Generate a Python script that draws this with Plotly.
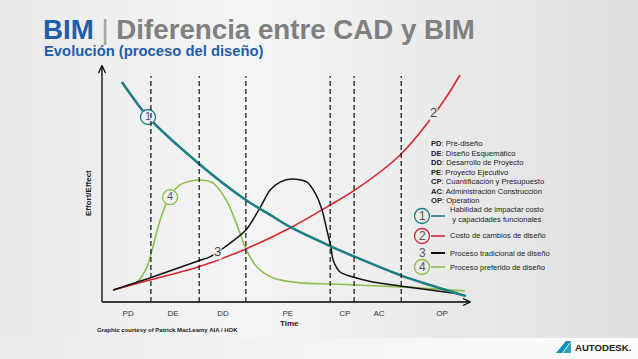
import plotly.graph_objects as go

W, H = 638, 359

# ---------------- data ----------------
phase_labels = ["PD", "DE", "DD", "PE", "CP", "AC", "OP"]
phase_label_x = [7.1, 19.3, 32.9, 50.5, 66.0, 75.3, 92.4]
phase_bounds = [13.3, 26.4, 39.1, 62.0, 68.5, 81.3]

c1_x = [5.4, 12.5, 26.1, 39.1, 45.7, 51.1, 62.0, 68.8, 81.0, 89.1, 98.9]
c1_y = [93.2, 78.4, 58.9, 43.2, 36.9, 31.8, 23.7, 19.1, 11.4, 7.2, 2.5]

c2_x = [3.0, 13.0, 26.1, 39.1, 51.6, 62.0, 68.8, 81.0, 92.1, 97.3]
c2_y = [5.1, 9.3, 14.8, 22.5, 31.8, 41.1, 47.5, 62.3, 83.5, 96.2]

c3_x = [3.0, 13.0, 26.1, 29.3, 33.4, 39.1, 42.9, 45.7, 48.4, 51.6, 55.7, 57.9,
        59.8, 61.1, 62.2, 62.8, 64.7, 68.2, 73.6, 81.0, 97.3]
c3_y = [5.1, 10.2, 17.4, 19.1, 23.3, 30.5, 39.8, 47.5, 50.8, 52.1, 50.8, 46.2,
        39.0, 30.5, 23.3, 17.8, 12.7, 10.6, 8.5, 6.8, 3.4]

c4_x = [3.0, 9.5, 12.2, 13.6, 15.8, 17.9, 21.2, 26.1, 30.2, 34.0, 37.5, 39.1,
        42.1, 46.5, 53.8, 62.8, 81.0, 98.6]
c4_y = [5.1, 8.5, 14.8, 22.0, 34.7, 43.2, 49.6, 51.7, 50.4, 42.5, 29.2, 22.5,
        14.8, 10.2, 8.1, 7.6, 6.4, 4.7]

glossary_abbr = ["PD", "DE", "DD", "PE", "CP", "AC", "OP"]
glossary_text = ["Pre-diseño", "Diseño Esquemático", "Desarrollo de Proyecto",
                 "Proyecto Ejecutivo", "Cuantificación y Presupuesto",
                 "Administración Construcción", "Operation"]

legend_nums = ["1", "2", "3", "4"]
legend_texts = ["Habilidad de impactar costo<br>y capacidades funcionales",
                "Costo de cambios de diseño",
                "Proceso tradicional de diseño",
                "Proceso preferido de diseño"]

TEAL = "#1f7d85"
RED = "#d7282f"
BLACK = "#111111"
GREEN = "#8dbf4b"
colors = [TEAL, RED, BLACK, GREEN]

# ---------------- helpers ----------------
def X(px):
    return px / W

def Y(py):
    return 1 - py / H

def lerp(a, b, t):
    return tuple(round(a[i] + (b[i] - a[i]) * t) for i in range(3))

def bg_at(px):
    if px < 250:
        c = lerp((233, 234, 235), (245, 245, 245), px / 250)
    else:
        c = lerp((245, 245, 245), (222, 223, 224), (px - 250) / (W - 250))
    return "rgb(%d,%d,%d)" % c

fig = go.Figure()

# ---------------- background ----------------
shapes = []
n = 40
for i in range(n):
    x0 = W * i / n
    x1 = W * (i + 1) / n
    shapes.append(dict(type="rect", xref="paper", yref="paper",
                       x0=X(x0), x1=X(x1) + 0.002, y0=Y(338), y1=1,
                       fillcolor=bg_at((x0 + x1) / 2), line=dict(width=0), layer="below"))
    c = lerp((236, 236, 236), (252, 252, 252), (x0 + x1) / 2 / W)
    shapes.append(dict(type="rect", xref="paper", yref="paper",
                       x0=X(x0), x1=X(x1) + 0.002, y0=0, y1=Y(338),
                       fillcolor="rgb(%d,%d,%d)" % c, line=dict(width=0), layer="below"))

# phase boundaries (dashed)
for b in phase_bounds:
    shapes.append(dict(type="line", xref="x", yref="y", x0=b, x1=b, y0=0, y1=95.8,
                       line=dict(color="black", width=1.1, dash="5px,3px")))

# axis lines with open arrow heads
def seg(x0, y0, x1, y1, w=1.3, color="black"):
    shapes.append(dict(type="line", xref="paper", yref="paper", x0=X(x0), y0=Y(y0),
                       x1=X(x1), y1=Y(y1), line=dict(color=color, width=w)))

seg(102, 302, 470, 302)
seg(102, 302, 102, 66)
seg(463, 298.5, 470.5, 302)
seg(463, 305.5, 470.5, 302)
seg(98.5, 73, 102, 65.5)
seg(105.5, 73, 102, 65.5)

# legend circles and swatches
leg_y = [216, 236, 253, 267]
for i in range(4):
    if i != 2:
        shapes.append(dict(type="circle", xref="paper", yref="paper",
                           x0=X(414.5), x1=X(429.5), y0=Y(leg_y[i] + 7.5), y1=Y(leg_y[i] - 7.5),
                           line=dict(color=colors[i], width=1.3), fillcolor="rgba(0,0,0,0)"))
    shapes.append(dict(type="line", xref="paper", yref="paper",
                       x0=X(431), x1=X(445), y0=Y(leg_y[i]), y1=Y(leg_y[i]),
                       line=dict(color=colors[i], width=2 if i == 2 else 1.6)))

# autodesk logo icon
shapes.append(dict(type="path", xref="paper", yref="paper",
                   path="M %f %f L %f %f L %f %f L %f %f Z" % (X(556), Y(353), X(566), Y(341),
                                                              X(571), Y(341), X(562), Y(353)),
                   fillcolor="#0e8fb5", line=dict(width=0)))
shapes.append(dict(type="path", xref="paper", yref="paper",
                   path="M %f %f L %f %f L %f %f L %f %f Z" % (X(563), Y(353), X(571), Y(342),
                                                              X(571), Y(353), X(563), Y(353)),
                   fillcolor="#2aa3b8", line=dict(width=0)))

# ---------------- curves ----------------
fig.add_trace(go.Scatter(x=c4_x, y=c4_y, mode="lines", line=dict(color=GREEN, width=1.6, shape="spline", smoothing=0.8)))
fig.add_trace(go.Scatter(x=c2_x, y=c2_y, mode="lines", line=dict(color=RED, width=1.6, shape="spline", smoothing=0.8)))
fig.add_trace(go.Scatter(x=c3_x, y=c3_y, mode="lines", line=dict(color=BLACK, width=1.5, shape="spline", smoothing=0.8)))
fig.add_trace(go.Scatter(x=c1_x, y=c1_y, mode="lines", line=dict(color=TEAL, width=2.6, shape="spline", smoothing=0.8)))

# circled labels on curves
for lx, ly, txt, col, bpx in [(c1_x[1], c1_y[1], "1", TEAL, 148),
                              (c4_x[5] + 0.6, c4_y[5] + 1.2, "4", GREEN, 170)]:
    fig.add_trace(go.Scatter(x=[lx], y=[ly], mode="markers+text",
                             text=[txt], textposition="middle center",
                             textfont=dict(family="Liberation Sans, Arial", size=11, color="#555"),
                             marker=dict(size=15, color=bg_at(bpx), opacity=1,
                                         line=dict(color=col, width=1.3))))

annotations = []
def ann(text, px, py, size, color="#222", xanchor="left", yanchor="middle", family="Liberation Sans, Arial", **kw):
    annotations.append(dict(text=text, x=X(px), y=Y(py), xref="paper", yref="paper",
                            showarrow=False, xanchor=xanchor, yanchor=yanchor,
                            font=dict(family=family, size=size, color=color), **kw))

# plain labels "2" and "3" interrupting curves
annotations.append(dict(text="2", x=90.2, y=80.5, xref="x", yref="y", showarrow=False,
                        font=dict(family="Liberation Sans, Arial", size=13, color="#444"),
                        bgcolor=bg_at(434), borderpad=0))
annotations.append(dict(text="3", x=31.3, y=21.2, xref="x", yref="y", showarrow=False,
                        font=dict(family="Liberation Sans, Arial", size=13, color="#444"),
                        bgcolor=bg_at(217), borderpad=0))

# title texts
ann("<b><span style='color:#1f5ea8'>BIM</span> <span style='color:#a0a0a0;font-weight:normal'>|</span> Diferencia entre CAD y BIM</b>",
    41, 29, 27.7, color="#808080")
ann("<b>Evolución (proceso del diseño)</b>", 42, 51, 14.8, color="#1f5ea8")

# axis texts
ann("<b>Time</b>", 289, 323, 8, xanchor="center", color="#222")
ann("<b>Effort/Effect</b>", 88, 193, 8, xanchor="center", color="#222", textangle=-90)
ann("<b>Graphic courtesy of Patrick MacLeamy AIA / HOK</b>", 95, 330, 6, color="#222")

# glossary
FONT = "Liberation Sans, Arial"
gl_y = [143, 153, 162, 172, 181, 191, 200]
for a, t, yy in zip(glossary_abbr, glossary_text, gl_y):
    ann("<b>%s</b>: %s" % (a, t), 429, yy, 7.6, color="#222", family=FONT)

# legend
for i in range(4):
    ann(legend_nums[i], 422, leg_y[i], 12, color="#555", xanchor="center")
    ann(legend_texts[i], 448, leg_y[i] - (1 if i == 0 else 0), 7.6, color="#222", family=FONT)

# autodesk wordmark
ann("<b>AUTODESK.</b>", 573, 347, 9.6, color="#222")

fig.update_layout(
    width=W, height=H, margin=dict(l=0, r=0, t=0, b=0),
    paper_bgcolor="#ececec", plot_bgcolor="rgba(0,0,0,0)",
    showlegend=False, shapes=shapes, annotations=annotations,
    xaxis=dict(domain=[X(102), X(470)], range=[0, 100], showgrid=False, zeroline=False,
               showline=False, tickmode="array", tickvals=phase_label_x, ticktext=phase_labels,
               ticks="", ticklabelstandoff=5,
               tickfont=dict(family="Liberation Sans, Arial", size=8, color="#333"),
               fixedrange=True),
    yaxis=dict(domain=[Y(302), Y(66)], range=[0, 100], showgrid=False, zeroline=False,
               showline=False, showticklabels=False, fixedrange=True),
)

fig.write_html("out.html", config={"displayModeBar": False},
               post_script="document.body.style.margin='0';document.body.style.padding='0';")
